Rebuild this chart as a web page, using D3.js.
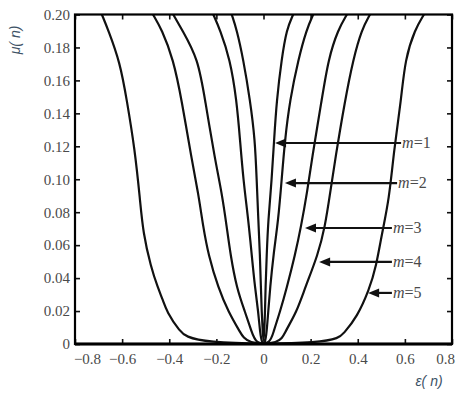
<!DOCTYPE html>
<html>
<head>
<meta charset="utf-8">
<script src="https://cdn.jsdelivr.net/npm/d3@7"></script>
<style>
  body { margin: 0; background: #fff; }
  svg { display: block; }
  .tick text { font-family: "Liberation Serif", serif; font-size: 15px; fill: #4a4a4a; }
</style>
</head>
<body>
<div id="chart"></div>
<script>
// axis ticks
var xTicks = [-0.8, -0.6, -0.4, -0.2, 0, 0.2, 0.4, 0.6, 0.8]
var yTicks = [0, 0.02, 0.04, 0.06, 0.08, 0.1, 0.12, 0.14, 0.16, 0.18, 0.2]

// curves, e(n) left to right, mu(n) matching
var e_m1 = [-0.135, -0.114, -0.086, -0.057, -0.036, -0.029, -0.022, -0.015, -0.011, -0.0076, -0.0034, 0,
            0.0034, 0.0064, 0.0085, 0.0136, 0.020, 0.035, 0.045, 0.056, 0.077, 0.098, 0.126]
var mu_m1 = [0.2, 0.191, 0.173, 0.148, 0.124, 0.0997, 0.0754, 0.0541, 0.034, 0.0195, 0.0073, 0,
             0.0073, 0.0195, 0.034, 0.0541, 0.0754, 0.0997, 0.124, 0.148, 0.173, 0.191, 0.2]

var e_m2 = [-0.213, -0.185, -0.142, -0.114, -0.0997, -0.0857, -0.0645, -0.050, -0.036, -0.022, -0.015, -0.006,
            0.006, 0.0136, 0.020, 0.028, 0.042, 0.063, 0.077, 0.091, 0.112, 0.148, 0.183, 0.211]
var mu_m2 = [0.2, 0.191, 0.173, 0.148, 0.124, 0.0997, 0.0754, 0.0541, 0.034, 0.0195, 0.0073, 0,
             0, 0.0073, 0.0195, 0.034, 0.0541, 0.0754, 0.0997, 0.124, 0.148, 0.173, 0.191, 0.2]

var e_m3 = [-0.383, -0.347, -0.277, -0.248, -0.206, -0.177, -0.156, -0.140, -0.114, -0.0785, -0.050, -0.032,
            0.028, 0.042, 0.070, 0.0985, 0.134, 0.159, 0.185, 0.205, 0.247, 0.275, 0.317, 0.354]
var mu_m3 = [0.2, 0.191, 0.173, 0.148, 0.112, 0.0918, 0.0711, 0.0541, 0.034, 0.0195, 0.0073, 0,
             0, 0.0073, 0.0195, 0.034, 0.0541, 0.0711, 0.0918, 0.112, 0.148, 0.173, 0.191, 0.2]

var e_m4 = [-0.469, -0.432, -0.383, -0.347, -0.305, -0.277, -0.256, -0.234, -0.192, -0.149, -0.0997, -0.070,
            0.070, 0.091, 0.141, 0.176, 0.231, 0.261, 0.283, 0.304, 0.346, 0.381, 0.417, 0.452]
var mu_m4 = [0.2, 0.191, 0.173, 0.148, 0.112, 0.0918, 0.0711, 0.0541, 0.034, 0.0195, 0.0073, 0,
             0, 0.0073, 0.0195, 0.034, 0.0541, 0.0711, 0.0918, 0.112, 0.148, 0.173, 0.191, 0.2]

var e_m5 = [-0.686, -0.660, -0.609, -0.580, -0.546, -0.524, -0.511, -0.478, -0.448, -0.427, -0.410, -0.360, -0.303,
            0.299, 0.342, 0.397, 0.448, 0.478, 0.503, 0.533, 0.554, 0.584, 0.601, 0.643, 0.681]
var mu_m5 = [0.2, 0.191, 0.171, 0.148, 0.118, 0.0875, 0.0675, 0.0468, 0.034, 0.0267, 0.0195, 0.0085, 0,
             0, 0.0067, 0.0164, 0.0328, 0.0468, 0.0675, 0.0875, 0.118, 0.148, 0.173, 0.191, 0.2]

// arrow labels
var labelNames = ['1', '2', '3', '4', '5']
var labelMu = [0.122, 0.0977, 0.0704, 0.0498, 0.031]
var arrowTipE = [0.049, 0.091, 0.176, 0.236, 0.444]
var arrowTailE = [0.584, 0.567, 0.545, 0.545, 0.545]

var width = 474, height = 402
var plotLeft = 75, plotRight = 452, plotTop = 14.5, plotBottom = 344

var svg = d3.select('#chart').append('svg').attr('width', width).attr('height', height)

var x = d3.scaleLinear().domain([-0.8, 0.8]).range([plotLeft, plotRight])
var y = d3.scaleLinear().domain([0, 0.2]).range([plotBottom, plotTop])

// axes, MATLAB style: ticks inside on all four sides
var xAxis = svg.append('g').attr('transform', 'translate(0,' + plotBottom + ')')
  .call(d3.axisBottom(x).tickValues(xTicks).tickSizeInner(-5).tickSizeOuter(0).tickPadding(9)
    .tickFormat(function(d) { return d === 0 ? '0' : d3.format('.1f')(d) }))
svg.append('g').attr('transform', 'translate(0,' + plotTop + ')')
  .call(d3.axisTop(x).tickValues(xTicks).tickSizeInner(-5).tickSizeOuter(0).tickFormat(''))
svg.append('g').attr('transform', 'translate(' + plotLeft + ',0)')
  .call(d3.axisLeft(y).tickValues(yTicks).tickSizeInner(-5).tickSizeOuter(0).tickPadding(5)
    .tickFormat(function(d) { return d === 0 ? '0' : d3.format('.2f')(d) }))
svg.append('g').attr('transform', 'translate(' + plotRight + ',0)')
  .call(d3.axisRight(y).tickValues(yTicks).tickSizeInner(-5).tickSizeOuter(0).tickFormat(''))

svg.selectAll('.domain').remove()
svg.selectAll('.tick line').attr('stroke', '#111').attr('stroke-width', 1.6)

// end labels sit inside the frame in the original
xAxis.selectAll('.tick text').filter(function(d) { return d === -0.8 }).attr('dx', 12)
xAxis.selectAll('.tick text').filter(function(d) { return d === 0.8 }).attr('dx', -7)

// curves
var curves = [[e_m1, mu_m1], [e_m2, mu_m2], [e_m3, mu_m3], [e_m4, mu_m4], [e_m5, mu_m5]]
var line = d3.line()
  .x(function(d) { return x(d[0]) })
  .y(function(d) { return y(d[1]) })
  .curve(d3.curveBasis)

svg.append('clipPath').attr('id', 'clip')
  .append('rect').attr('x', plotLeft).attr('y', plotTop)
  .attr('width', plotRight - plotLeft).attr('height', plotBottom - plotTop)

svg.append('g').attr('clip-path', 'url(#clip)')
  .selectAll('path').data(curves).enter().append('path')
  .attr('d', function(c) { return line(d3.zip(c[0], c[1])) })
  .attr('fill', 'none')
  .attr('stroke', '#111')
  .attr('stroke-width', 2.2)
  .attr('stroke-linejoin', 'round')

// frame
svg.append('rect')
  .attr('x', plotLeft).attr('y', plotTop)
  .attr('width', plotRight - plotLeft).attr('height', plotBottom - plotTop)
  .attr('fill', 'none').attr('stroke', '#000').attr('stroke-width', 2.2)
svg.append('line')
  .attr('x1', plotLeft).attr('x2', plotRight).attr('y1', plotBottom).attr('y2', plotBottom)
  .attr('stroke', '#000').attr('stroke-width', 3)

// arrows with m= labels
var ann = svg.append('g')
labelNames.forEach(function(name, i) {
  var yy = y(labelMu[i])
  var tip = x(arrowTipE[i]), tail = x(arrowTailE[i])
  ann.append('line')
    .attr('x1', tail).attr('x2', tip + 6).attr('y1', yy).attr('y2', yy)
    .attr('stroke', '#111').attr('stroke-width', 2.2)
  ann.append('path')
    .attr('d', 'M' + tip + ',' + yy + 'L' + (tip + 11) + ',' + (yy - 4.5) + 'L' + (tip + 11) + ',' + (yy + 4.5) + 'Z')
    .attr('fill', '#111')
  var t = ann.append('text')
    .attr('x', tail + 1).attr('y', yy + 5)
    .style('font-family', '"Liberation Serif", serif').style('font-size', '16px').style('fill', '#4a4a4a')
  t.append('tspan').style('font-style', 'italic').text('m')
  t.append('tspan').text('=' + name)
})

// axis titles
svg.append('text')
  .attr('transform', 'translate(20,40) rotate(-90)')
  .attr('text-anchor', 'middle')
  .style('font-family', '"Liberation Sans", sans-serif').style('font-style', 'italic')
  .style('font-size', '14px').style('fill', '#3d5266')
  .text('μ( n)')
svg.append('text')
  .attr('x', 429).attr('y', 386)
  .attr('text-anchor', 'middle')
  .style('font-family', '"Liberation Sans", sans-serif').style('font-style', 'italic')
  .style('font-size', '14px').style('fill', '#3d5266')
  .text('ε( n)')
</script>
</body>
</html>
